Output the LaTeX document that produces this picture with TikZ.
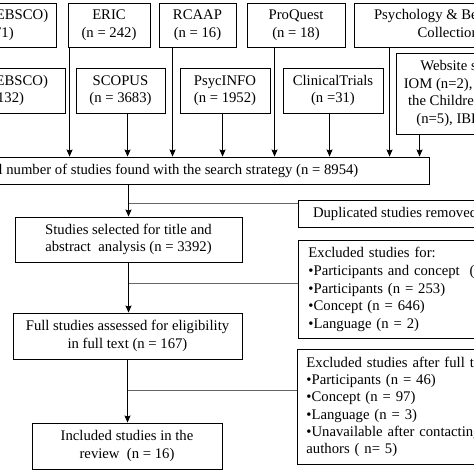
\documentclass[tikz,border=0pt]{standalone}
\usepackage{fontspec}
\setmainfont{Liberation Serif}
\usetikzlibrary{arrows.meta}

\tikzset{
	box/.style={draw, line width=0.9pt, align=center, inner sep=0pt},
	listbox/.style={draw, line width=0.9pt, align=left, anchor=north west, inner ysep=0pt, text width=300pt},
	branch/.style={-, draw=black!60, line width=0.7pt},
}

\begin{document}
\begin{tikzpicture}[-{Stealth[length=7pt,width=6pt,inset=1pt]}, line width=0.9pt, x=1pt, y=-1pt,
	font=\fontsize{14.7}{17.6}\selectfont]

\useasboundingbox (0,0) rectangle (474,474);
\clip (0,0) rectangle (474,474);

\node[box, minimum width=132pt, minimum height=44pt] (cinahl)   at (-10,25)    {CINAHL (EBSCO)\\(n = 71)};
\node[box, minimum width=82pt,  minimum height=44pt] (eric)     at (109,25)    {ERIC\\(n = 242)};
\node[box, minimum width=77pt,  minimum height=44pt] (rcaap)    at (197.5,25)  {RCAAP\\(n = 16)};
\node[box, minimum width=98pt,  minimum height=44pt] (proquest) at (296,25)    {ProQuest\\(n = 18)};
\node[box, minimum width=247pt, minimum height=44pt] (psybeh)   at (477.5,25)  {Psychology \& Behavioral Sciences\\Collection (n = 795)};

\node[box, minimum width=144pt, minimum height=45pt] (medline)  at (-7,90.5)   {Medline (EBSCO)\\(n = 2132)};
\node[box, minimum width=89pt,  minimum height=45pt] (scopus)   at (120.5,90.5) {SCOPUS\\(n = 3683)};
\node[box, minimum width=90pt,  minimum height=45pt] (psycinfo) at (225,90.5)  {PsycINFO\\(n = 1952)};
\node[box, minimum width=100pt, minimum height=45pt] (clinical) at (333,90.5)  {ClinicalTrials\\(n =31)};
\node[box, minimum width=141pt, minimum height=81pt] (website)  at (466.5,93.5) {Website search:\\IOM (n=2), UNICEF\\the Children's Fund\\(n=5), IBE (n=1)};

\node[box, minimum width=527pt, minimum height=27pt] (total)    at (165.5,170.5) {Total number of studies found with the search strategy (n = 8954)};

\node[box, minimum width=227pt, minimum height=45pt] (selected) at (128.5,239.5) {Studies selected for title and\\abstract\ \ analysis (n = 3392)};
\node[box, minimum width=260pt, minimum height=27pt] (dup)      at (428,213.5) {Duplicated studies removed (n = 5562)};
\node[listbox, inner xsep=10pt, minimum height=98pt] (excla)    at (298,240)
	{Excluded studies for:\\•Participants and concept\ \ (n = 2324)\\•Participants (n = 253)\\•Concept (n = 646)\\•Language (n = 2)};

\node[box, minimum width=229pt, minimum height=46pt] (full)     at (127.5,336) {Full studies assessed for eligibility\\in full text (n = 167)};
\node[listbox, inner xsep=9pt, minimum height=115pt, font=\fontsize{14.7}{17.2}\selectfont] (exclb) at (297,349)
	{Excluded studies after full text:\\•Participants (n = 46)\\•Concept (n = 97)\\•Language (n = 3)\\•Unavailable after contacting the\\authors ( n= 5)};

\node[box, minimum width=190pt, minimum height=46pt] (included) at (127,446)   {Included studies in the\\review\ \ (n = 16)};

\foreach \s/\d in {eric/2, rcaap/14, proquest/28, psybeh/36, scopus/52, psycinfo/43, clinical/47, website/24}
	\draw ([xshift=\d pt]\s.south west) -- ([xshift=\d pt]\s.south west |- total.north);

\draw (total.south -| selected.north) -- (selected.north);
\draw (selected.south) -- (selected.south |- full.north);
\draw (full.south) -- (full.south |- included.north);

\coordinate (dupin)   at ([yshift=-4pt]dup.north west);
\coordinate (exclain) at ([yshift=-43pt]excla.north west);
\coordinate (exclbin) at ([yshift=-41pt]exclb.north west);
\draw[branch] (dupin) -- (dupin -| selected.north);
\draw[branch] (exclain) -- (exclain -| selected.south);
\draw[branch] (exclbin) -- (exclbin -| full.south);

\end{tikzpicture}
\end{document}
